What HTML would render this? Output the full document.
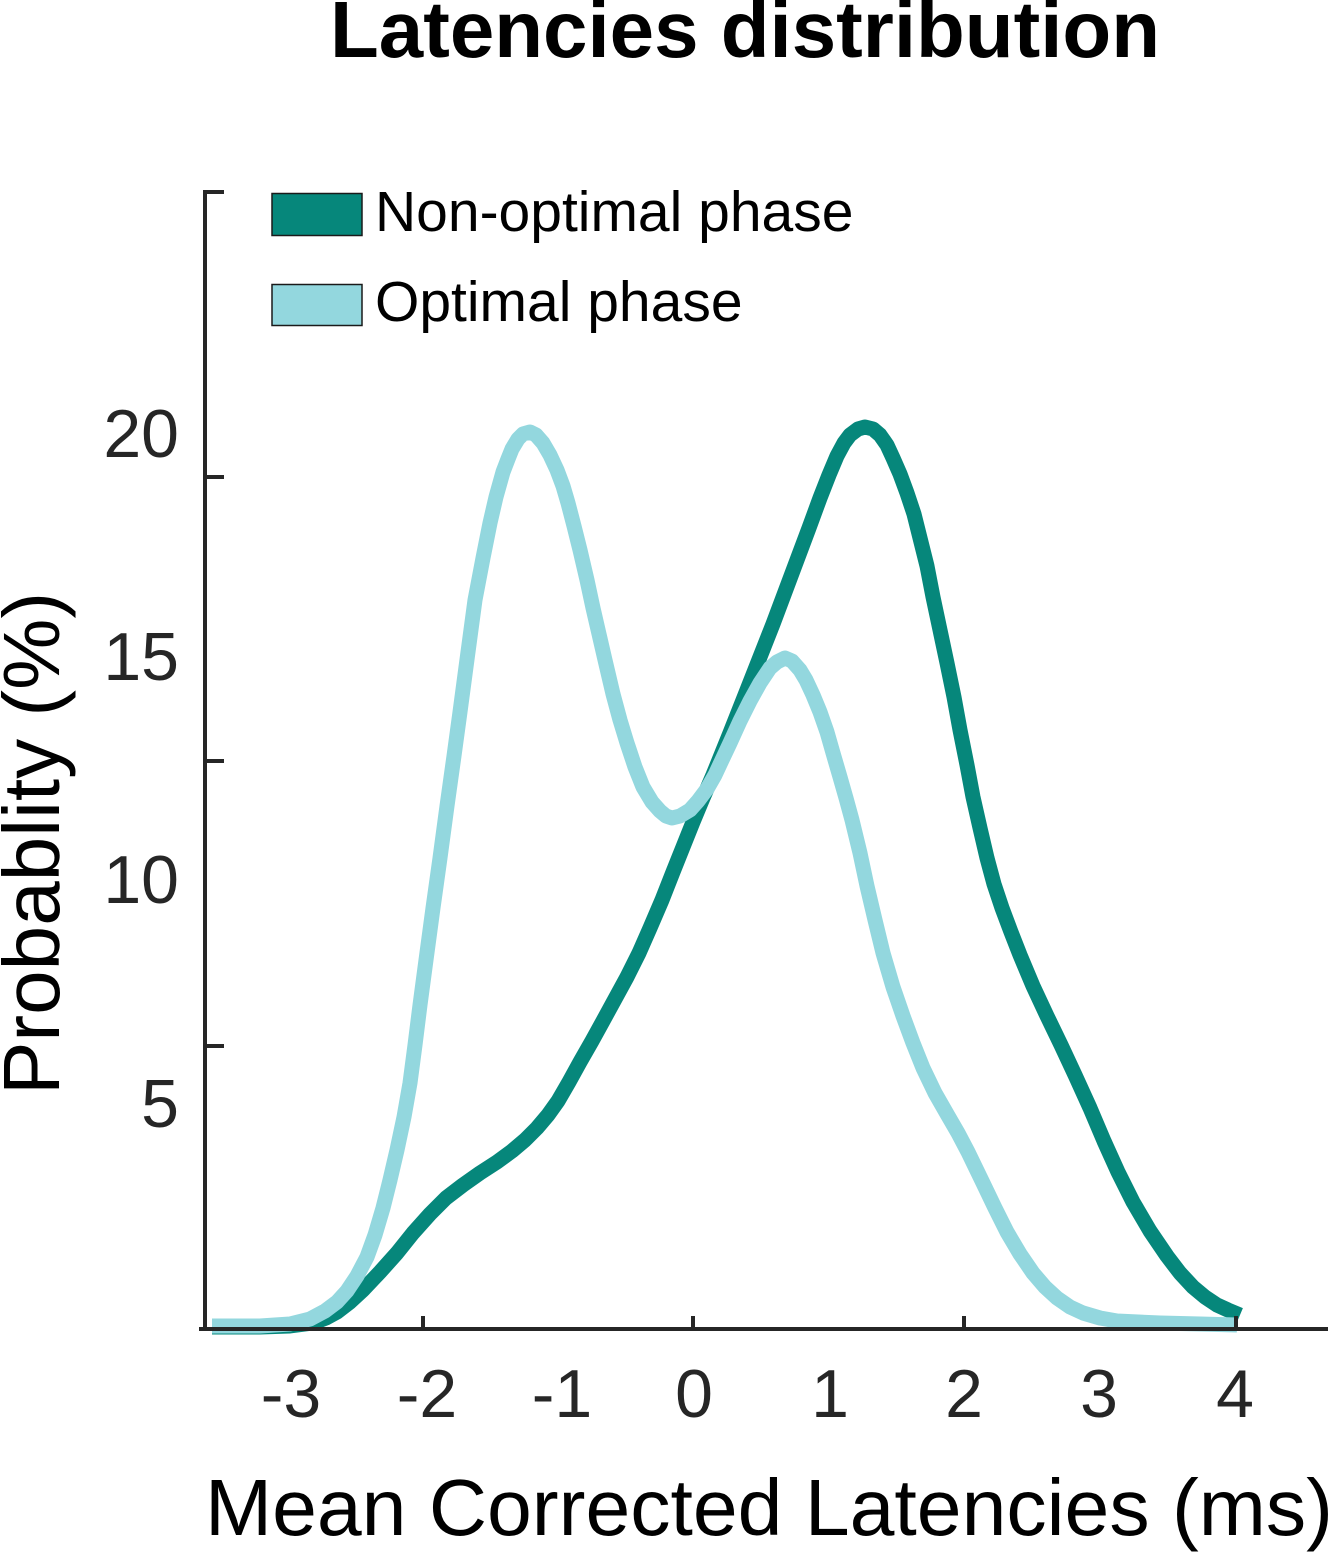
<!DOCTYPE html>
<html>
<head>
<meta charset="utf-8">
<style>
html,body{margin:0;padding:0;background:#fff;}
svg{display:block;}
text{font-family:"Liberation Sans", Arial, sans-serif;}
</style>
</head>
<body>
<svg width="1337" height="1554" viewBox="0 0 1337 1554" xmlns="http://www.w3.org/2000/svg">
<rect x="0" y="0" width="1337" height="1554" fill="#fff"/>

<!-- Title -->
<text x="330" y="57" font-size="80" font-weight="bold" fill="#000" textLength="830" lengthAdjust="spacingAndGlyphs">Latencies distribution</text>

<!-- Dark curve: Non-optimal phase -->
<polyline fill="none" stroke="#06877B" stroke-width="15" stroke-linejoin="round" stroke-linecap="butt"
points="212,1327 260,1327 290,1326 313,1323 326,1318 337,1312 350,1302 363,1290 380,1272 397,1253 413,1233 430,1214 446,1198 463,1185 480,1173 497,1162 512,1151 525,1140 537,1128 548,1115 558,1101 569,1082 580,1062 592,1041 603,1021 615,999 627,977 639,953 650,928 662,900 673,872 683,847 693,822 703,798 713,775 730,733 747,690 760,657 773,624 785,592 797,560 809,528 820,498 829,475 837,456 844,443 850,435 858,429 865,427 873,429 880,435 887,445 893,458 900,474 907,493 914,514 920,538 927,566 933,597 940,630 947,663 954,697 960,730 967,765 973,797 980,828 987,858 994,884 1002,908 1011,932 1020,955 1033,986 1047,1016 1061,1045 1075,1075 1090,1108 1104,1141 1118,1172 1133,1202 1150,1231 1167,1256 1180,1273 1193,1287 1205,1297 1217,1305 1228,1310 1240,1315"/>

<!-- Light curve: Optimal phase -->
<polyline fill="none" stroke="#93D7DE" stroke-width="15" stroke-linejoin="round" stroke-linecap="butt"
points="212,1326 260,1326 290,1324 310,1319 325,1311 337,1302 347,1291 357,1276 367,1257 375,1235 383,1208 390,1180 397,1150 404,1117 410,1083 415,1045 420,1005 426,960 433,908 440,858 447,806 454,756 460,712 468,652 475,600 483,558 490,523 496,497 503,472 508,459 512,449 518,439 523,434 530,432 536,435 543,443 550,455 557,470 563,486 568,503 574,526 580,550 587,580 593,608 599,634 605,660 613,694 620,720 627,743 635,767 643,787 652,802 660,811 666,816 672,818 680,816 690,810 698,801 707,789 715,775 722,760 730,743 740,721 750,701 760,683 770,668 777,662 785,658 792,661 800,670 806,680 813,695 820,712 827,732 833,753 840,777 846,798 852,820 860,853 867,886 875,920 883,953 893,987 903,1016 913,1043 923,1068 935,1093 947,1114 958,1133 968,1152 983,1183 995,1208 1007,1232 1020,1254 1033,1273 1045,1287 1057,1298 1070,1307 1083,1313 1100,1318 1117,1321 1160,1323 1200,1324 1237,1325"/>

<!-- Axes -->
<g stroke="#262626" stroke-width="4" fill="none">
  <line x1="205" y1="190" x2="205" y2="1331"/>
  <line x1="199" y1="1329" x2="1328" y2="1329"/>
  <!-- y ticks -->
  <line x1="205" y1="192" x2="224" y2="192"/>
  <line x1="205" y1="477" x2="224" y2="477"/>
  <line x1="205" y1="761" x2="224" y2="761"/>
  <line x1="205" y1="1046" x2="224" y2="1046"/>
  <!-- x ticks -->
  <line x1="423" y1="1329" x2="423" y2="1316"/>
  <line x1="693" y1="1329" x2="693" y2="1316"/>
  <line x1="964" y1="1329" x2="964" y2="1316"/>
  <line x1="1236" y1="1329" x2="1236" y2="1316"/>
</g>

<!-- Y tick labels -->
<g font-size="68" fill="#262626" text-anchor="end">
  <text x="179" y="457">20</text>
  <text x="179" y="680">15</text>
  <text x="179" y="903">10</text>
  <text x="179" y="1127">5</text>
</g>

<!-- X tick labels -->
<g font-size="68" fill="#262626" text-anchor="middle">
  <text x="291" y="1417">-3</text>
  <text x="427" y="1417">-2</text>
  <text x="562" y="1417">-1</text>
  <text x="694" y="1417">0</text>
  <text x="830" y="1417">1</text>
  <text x="964" y="1417">2</text>
  <text x="1099" y="1417">3</text>
  <text x="1235" y="1417">4</text>
</g>

<!-- Axis labels -->
<text x="205" y="1535" font-size="80" fill="#000" textLength="1128" lengthAdjust="spacingAndGlyphs">Mean Corrected Latencies (ms)</text>
<text transform="translate(59,1095) rotate(-90)" x="0" y="0" font-size="80" fill="#000" textLength="503" lengthAdjust="spacingAndGlyphs">Probablity (%)</text>

<!-- Legend -->
<rect x="272" y="193.5" width="90" height="42" fill="#06877B" stroke="#1a1a1a" stroke-width="1.5"/>
<rect x="272" y="284.5" width="90" height="41" fill="#93D7DE" stroke="#1a1a1a" stroke-width="1.5"/>
<text x="375" y="231" font-size="57" fill="#000">Non-optimal phase</text>
<text x="375" y="321" font-size="57" fill="#000">Optimal phase</text>
</svg>
</body>
</html>
